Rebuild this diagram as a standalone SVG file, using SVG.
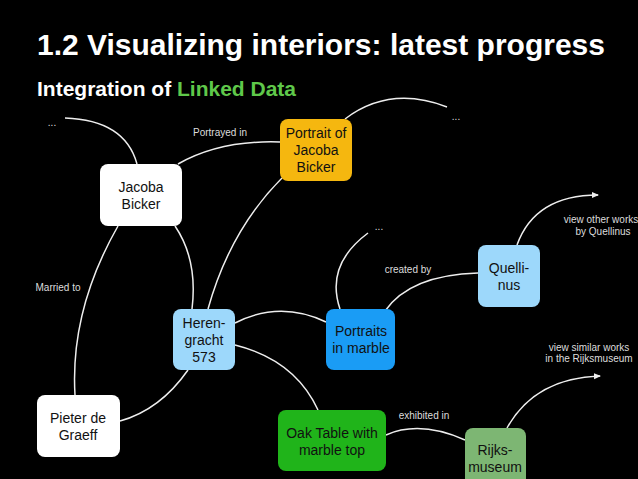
<svg xmlns="http://www.w3.org/2000/svg" width="638" height="479" viewBox="0 0 638 479">
<style>
text{font-family:"Liberation Sans",Arial,sans-serif}
.n{font-size:14px;fill:#111;text-anchor:middle}
.l{font-size:10px;fill:#ddd;text-anchor:middle}
.e path{fill:none;stroke:#eee;stroke-width:1.5}
</style>
<defs><marker id="a" markerWidth="8" markerHeight="8" refX="6" refY="3" orient="auto" markerUnits="userSpaceOnUse"><path d="M0,0L7,3L0,6z" fill="#eee"/></marker></defs>
<rect width="638" height="479" fill="#000"/>
<text x="37" y="55" font-size="30" font-weight="bold" fill="#fff">1.2 Visualizing interiors: latest progress</text>
<text x="37" y="96" font-size="21" font-weight="bold" fill="#fff">Integration of <tspan fill="#5fc84a">Linked Data</tspan></text>
<g class="e" id="connectors">
<path d="M65,118 Q125,120 137,164"/>
<path d="M178,164 Q220,140 280,142"/>
<path d="M118,226 Q70,310 75,395"/>
<path d="M175,226 Q198,260 192,309"/>
<path d="M208,309 Q230,230 282,178"/>
<path d="M235,323 Q280,300 326,322"/>
<path d="M235,345 Q295,360 318,410"/>
<path d="M188,370 Q160,410 120,421"/>
<path d="M345,119 Q390,85 447,107"/>
<path d="M340,309 Q325,265 368,233"/>
<path d="M385,311 Q410,275 478,273"/>
<path d="M517,245 Q535,195 598,195" marker-end="url(#a)"/>
<path d="M386,435 Q420,420 465,440"/>
<path d="M507,428 Q535,378 600,376" marker-end="url(#a)"/>
</g>
<g id="labels">
<text class="l" x="52" y="126">...</text>
<text class="l" x="220" y="136">Portrayed in</text>
<text class="l" x="58" y="291">Married to</text>
<text class="l" x="456" y="120">...</text>
<text class="l" x="379" y="230">...</text>
<text class="l" x="408" y="273">created by</text>
<text class="l" x="601" y="223">view other works</text>
<text class="l" x="603" y="235">by Quellinus</text>
<text class="l" x="589" y="351">view similar works</text>
<text class="l" x="589" y="362">in the Rijksmuseum</text>
<text class="l" x="424" y="419">exhibited in</text>
</g>
<g id="jacoba"><rect x="100" y="164" width="82" height="62" rx="8" fill="#fff"/><text class="n" x="141" y="192">Jacoba</text><text class="n" x="141" y="209">Bicker</text></g>
<g id="pieter"><rect x="37" y="395" width="83" height="62" rx="8" fill="#fff"/><text class="n" x="78" y="423">Pieter de</text><text class="n" x="78" y="440">Graeff</text></g>
<g id="heren"><rect x="173" y="309" width="62" height="61" rx="8" fill="#9dd8fb"/><text class="n" x="204" y="328">Heren-</text><text class="n" x="204" y="345">gracht</text><text class="n" x="204" y="362">573</text></g>
<g id="portrait"><rect x="280" y="119" width="72" height="62" rx="8" fill="#f5b70f"/><text class="n" x="316" y="138">Portrait of</text><text class="n" x="316" y="155">Jacoba</text><text class="n" x="316" y="172">Bicker</text></g>
<g id="marble"><rect x="326" y="309" width="69" height="61" rx="8" fill="#1a9cf5"/><text class="n" x="361" y="336">Portraits</text><text class="n" x="361" y="353">in marble</text></g>
<g id="quellinus"><rect x="478" y="245" width="62" height="62" rx="8" fill="#9dd8fb"/><text class="n" x="509" y="273">Quelli-</text><text class="n" x="509" y="290">nus</text></g>
<g id="oak"><rect x="278" y="410" width="108" height="61" rx="8" fill="#20b41a"/><text class="n" x="332" y="438">Oak Table with</text><text class="n" x="332" y="455">marble top</text></g>
<g id="rijks"><rect x="465" y="428" width="61" height="60" rx="8" fill="#7db673"/><text class="n" x="495" y="455">Rijks-</text><text class="n" x="495" y="472">museum</text></g>
</svg>
